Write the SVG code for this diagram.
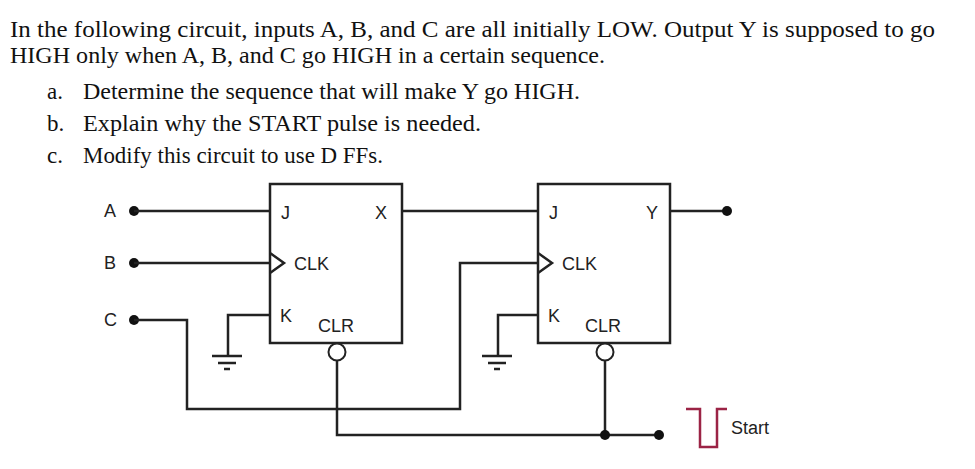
<svg xmlns="http://www.w3.org/2000/svg" width="975" height="469" viewBox="0 0 975 469">
<style>
.t{font-family:"Liberation Serif",serif;font-size:23px;fill:#111}
.l{font-family:"Liberation Sans",sans-serif;font-size:18px;fill:#222}
.w{fill:none;stroke:#222;stroke-width:2.5}
.d{fill:#111}
</style>
<rect width="975" height="469" fill="#fff"/>
<g id="question">
<text class="t" x="10" y="37" textLength="925" lengthAdjust="spacingAndGlyphs">In the following circuit, inputs A, B, and C are all initially LOW. Output Y is supposed to go</text>
<text class="t" x="10" y="63" textLength="595" lengthAdjust="spacingAndGlyphs">HIGH only when A, B, and C go HIGH in a certain sequence.</text>
<text class="t" x="47" y="99">a.</text><text class="t" x="83" y="99" textLength="497" lengthAdjust="spacingAndGlyphs">Determine the sequence that will make Y go HIGH.</text>
<text class="t" x="47" y="131">b.</text><text class="t" x="83" y="131" textLength="398" lengthAdjust="spacingAndGlyphs">Explain why the START pulse is needed.</text>
<text class="t" x="47" y="163">c.</text><text class="t" x="83" y="163" textLength="300" lengthAdjust="spacingAndGlyphs">Modify this circuit to use D FFs.</text>
</g>
<g id="inputs">
<text class="l" x="104" y="217">A</text><circle class="d" cx="134" cy="211" r="5"/>
<text class="l" x="104" y="269">B</text><circle class="d" cx="134" cy="263" r="5"/>
<text class="l" x="104" y="326">C</text><circle class="d" cx="134" cy="320" r="5"/>
</g>
<g id="ff1">
<rect class="w" x="270" y="184" width="132" height="159"/>
<path class="w" d="M270 253 L284 263 L270 273"/>
<text class="l" x="281" y="219">J</text>
<text class="l" x="375" y="219">X</text>
<text class="l" x="294" y="270">CLK</text>
<text class="l" x="280" y="322">K</text>
<text class="l" x="318" y="332">CLR</text>
<circle cx="337" cy="352" r="8.5" fill="#fff" stroke="#222" stroke-width="2"/>
</g>
<g id="ff2">
<rect class="w" x="538" y="184" width="132" height="159"/>
<path class="w" d="M538 253 L552 263 L538 273"/>
<text class="l" x="549" y="219">J</text>
<text class="l" x="646" y="219">Y</text>
<text class="l" x="562" y="270">CLK</text>
<text class="l" x="548" y="322">K</text>
<text class="l" x="585" y="332">CLR</text>
<circle cx="605" cy="352" r="8.5" fill="#fff" stroke="#222" stroke-width="2"/>
</g>
<g id="gnd1" class="w"><path d="M212 356 H242 M218 363 H236 M224 369 H230"/></g>
<g id="gnd2" class="w"><path d="M482 356 H512 M488 363 H506 M494 369 H500"/></g>
<g id="start">
<path d="M686 409 H700 V447 H717 V409 H727" fill="none" stroke="#9b2345" stroke-width="2.5"/>
<text class="l" x="731" y="434">Start</text>
</g>
<g id="connectors" class="w">
<path d="M134 211 H270"/>
<path d="M134 263 H270"/>
<path d="M134 320 H187 V409 H460 V263 H538"/>
<path d="M270 315 H228 V356"/>
<path d="M402 211 H538"/>
<path d="M538 315 H498 V356"/>
<path d="M670 211 H727"/>
<path d="M337 361 V435 H659"/>
<path d="M605 361 V435"/>
</g>
<g id="dots">
<circle class="d" cx="727" cy="211" r="5"/>
<circle class="d" cx="605" cy="435" r="5"/>
<circle class="d" cx="659" cy="435" r="5"/>
</g>
</svg>
